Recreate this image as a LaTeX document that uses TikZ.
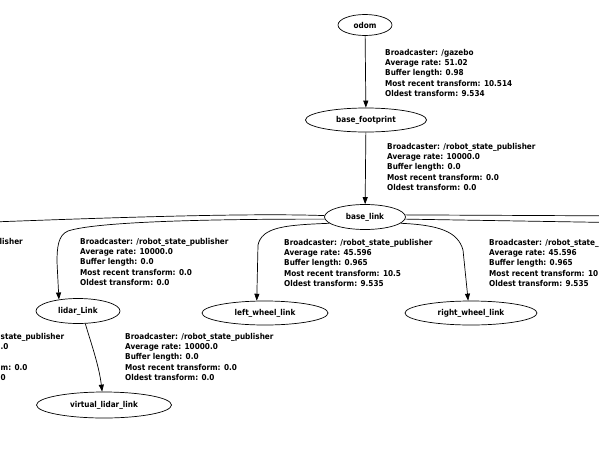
\documentclass[tikz,border=0pt]{standalone}
\usepackage{fontspec}
\IfFontExistsTF{DejaVu Sans Condensed}{\setmainfont{DejaVu Sans Condensed}}{\setmainfont{DejaVu Sans}[FakeStretch=0.9]}
\usepackage{tikz}
\usetikzlibrary{arrows.meta}
\usetikzlibrary{shapes.geometric}

\newcommand{\tffont}{\fontsize{8.1}{10.3}\selectfont\bfseries}

\begin{document}
\begin{tikzpicture}[x=1pt,y=-1pt]
  \tikzset{frame/.style = {shape=ellipse,draw,line width=0.7pt,inner sep=0pt,font=\tffont}}
  \tikzset{info/.style = {anchor=north west,align=left,inner sep=0pt,font=\tffont}}
  \tikzset{tfline/.style = {line width=0.7pt}}
  \tikzset{tfedge/.style = {tfline,-{Triangle[length=7pt,width=5pt]}}}

  \useasboundingbox (0,0) rectangle (599,458);
  \clip (0,0) rectangle (599,458);

	\node[frame,minimum width=54pt,minimum height=21pt] (odom) at (365,25) {odom};
	\node[frame,minimum width=121pt,minimum height=24pt] (base_footprint) at (366,120) {base\_footprint};
	\node[frame,minimum width=81pt,minimum height=25pt] (base_link) at (365,217) {base\_link};
	
	\node[frame,minimum width=84pt,minimum height=25pt] (lidar_Link) at (78,311) {lidar\_Link};
	\node[frame,minimum width=126pt,minimum height=24pt] (left_wheel_link) at (265,313) {left\_wheel\_link};
	\node[frame,minimum width=132pt,minimum height=24pt] (right_wheel_link) at (471,313) {right\_wheel\_link};
	\node[frame,minimum width=135pt,minimum height=26pt] (virtual_lidar_link) at (104,405) {virtual\_lidar\_link};
	
	\coordinate (west_end) at (-60,224);
	\coordinate (east_endA) at (640,216);
	\coordinate (east_endB) at (640,223);

	% transform labels
	\node[info] (info_odom) at (385,49) {Broadcaster: /gazebo\\Average rate: 51.02\\Buffer length: 0.98\\Most recent transform: 10.514\\Oldest transform: 9.534};
	\node[info] (info_footprint) at (387,143) {Broadcaster: /robot\_state\_publisher\\Average rate: 10000.0\\Buffer length: 0.0\\Most recent transform: 0.0\\Oldest transform: 0.0};
	\node[info] (info_lidar) at (80,238) {Broadcaster: /robot\_state\_publisher\\Average rate: 10000.0\\Buffer length: 0.0\\Most recent transform: 0.0\\Oldest transform: 0.0};
	\node[info] (info_left) at (284,239) {Broadcaster: /robot\_state\_publisher\\Average rate: 45.596\\Buffer length: 0.965\\Most recent transform: 10.5\\Oldest transform: 9.535};
	\node[info] (info_right) at (489,239) {Broadcaster: /robot\_state\_\\Average rate: 45.596\\Buffer length: 0.965\\Most recent transform: 10\\Oldest transform: 9.535};
	\node[info] (info_virtual) at (125,333) {Broadcaster: /robot\_state\_publisher\\Average rate: 10000.0\\Buffer length: 0.0\\Most recent transform: 0.0\\Oldest transform: 0.0};
	\node[info,anchor=north east] (info_cutA) at (23,238) {lisher};
	\node[info] (info_cutB) at (0.5,333) {state\_publisher\\.0\\[10.3pt]m: 0.0\\0};

    \foreach \from/\to in {odom/base_footprint, base_footprint/base_link}
    \draw[tfedge] (\from) -- (\to);

	\draw[tfedge] (base_link.183) .. controls (200,219) and (95,222) .. (68,231) .. controls (58,235) and (57,248) .. (57,262) -- (lidar_Link.149);
	\draw[tfedge] (base_link.190) .. controls (285,225) and (262,227) .. (258,245) -- (left_wheel_link.124);
	\draw[tfedge] (base_link.350) .. controls (440,225) and (458,232) .. (463,250) -- (right_wheel_link.103);
	\draw[tfedge] (lidar_Link.300) .. controls (90,340) and (99,365) .. (virtual_lidar_link.98);
	
	\draw[tfline] (base_link.178) .. controls (250,213) and (120,217) .. (west_end);
	\draw[tfline] (base_link.3) -- (east_endA);
	\draw[tfline] (base_link.357) -- (east_endB);

\end{tikzpicture}
\end{document}
